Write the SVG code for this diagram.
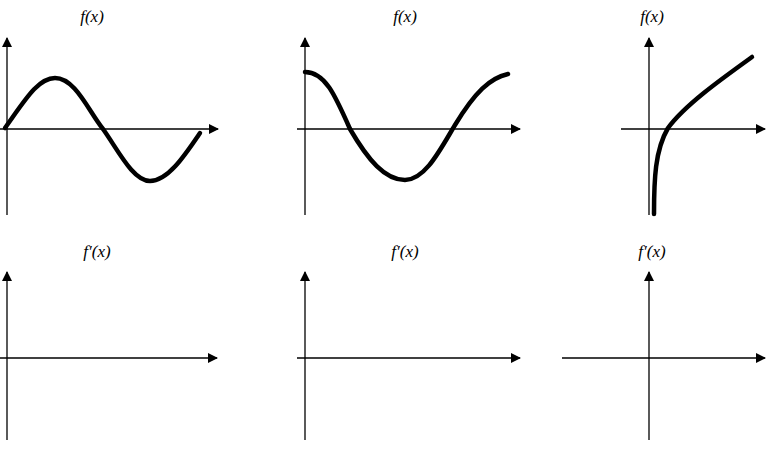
<svg xmlns="http://www.w3.org/2000/svg" width="768" height="450" viewBox="0 0 768 450">
<defs>
<marker id="ah" viewBox="0 0 10 10" refX="9" refY="5" markerWidth="10" markerHeight="10" markerUnits="userSpaceOnUse" orient="auto"><path d="M0,0 L10,5 L0,10 z" fill="#000"/></marker>
<style>
.ax{stroke:#000;stroke-width:1.3;fill:none;marker-end:url(#ah)}
.cv{stroke:#000;stroke-width:4.5;fill:none;stroke-linecap:round}
.lb{font-family:"Liberation Serif",serif;font-style:italic;font-size:17px;text-anchor:middle}
</style>
</defs>
<rect width="768" height="450" fill="#fff"/>
<g id="axes">
<path class="ax" d="M7,215 V38"/><path class="ax" d="M0,129 H218"/>
<path class="ax" d="M305,215 V38"/><path class="ax" d="M297,129 H520"/>
<path class="ax" d="M649,215 V38"/><path class="ax" d="M621,129 H765"/>
<path class="ax" d="M7,440 V272"/><path class="ax" d="M0,358 H217"/>
<path class="ax" d="M305,440 V272"/><path class="ax" d="M297,358 H520"/>
<path class="ax" d="M649,440 V272"/><path class="ax" d="M562,358 H765"/>
</g>
<g id="curves">
<path class="cv" d="M5,128 C25,100 38,78 55,78 C75,78 88,110 103,129 C118,150 133,181 150,181 C168,181 185,155 200,133"/>
<path class="cv" d="M305,72 C325,72 335,95 350,129 C368,160 385,180 405,180 C425,180 440,150 455,125 C475,92 490,78 508,74"/>
<path class="cv" d="M654,214 C654,180 655,150 668,128 C685,105 720,80 752,57"/>
</g>
<g id="labels">
<text class="lb" x="92" y="22">f(x)</text>
<text class="lb" x="405" y="22">f(x)</text>
<text class="lb" x="652" y="22">f(x)</text>
<text class="lb" x="97" y="257">f′(x)</text>
<text class="lb" x="405" y="257">f′(x)</text>
<text class="lb" x="652" y="257">f′(x)</text>
</g>
</svg>
